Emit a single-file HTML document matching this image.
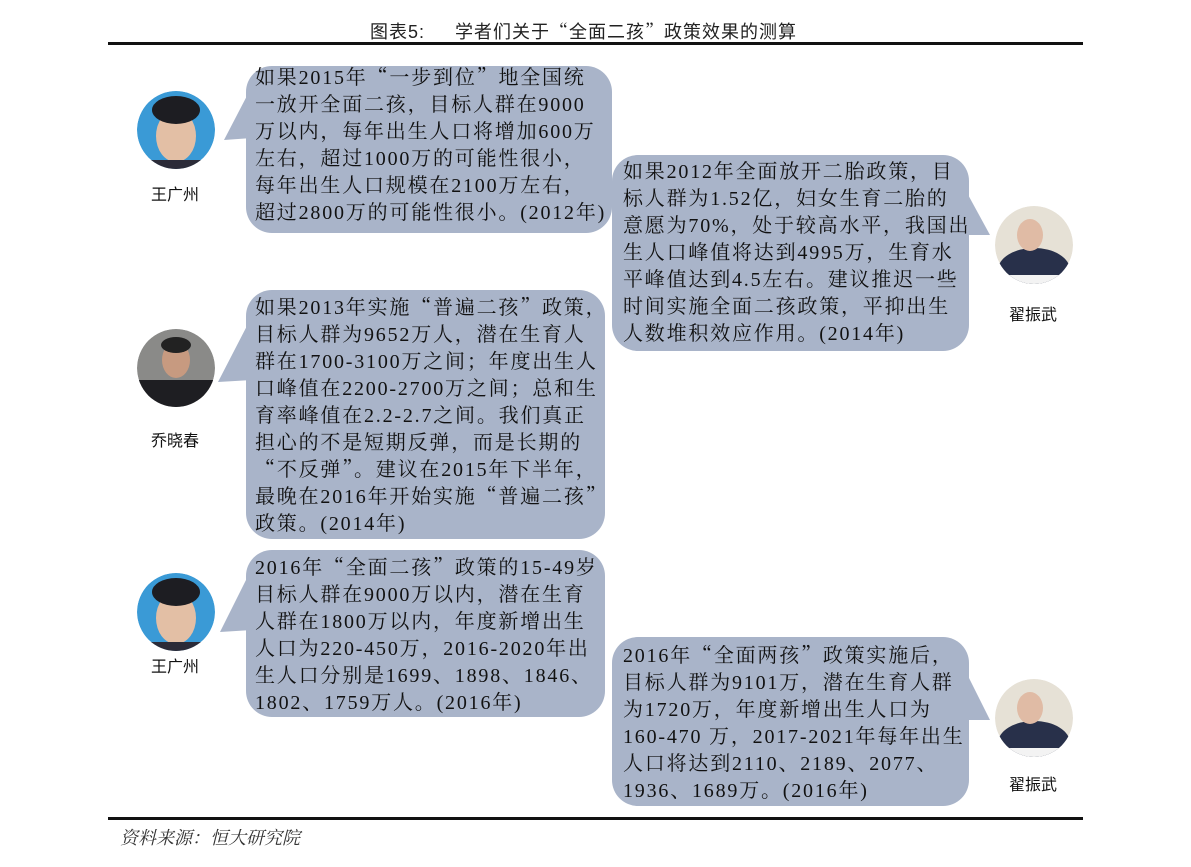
<!DOCTYPE html>
<html><head><meta charset="utf-8"><style>
body{margin:0;width:1191px;height:867px;background:#fff;position:relative;overflow:hidden;font-family:"Liberation Serif","Noto Serif CJK SC",serif;}
.t{position:absolute;font-size:20px;line-height:27px;letter-spacing:1.8px;color:#111;white-space:nowrap;}
.t div{height:27px;overflow:visible;}
.q{font-family:"Noto Serif CJK SC",serif;line-height:10px;}
.n{position:absolute;font-size:16px;color:#111;font-family:"Liberation Sans","Noto Sans CJK SC",sans-serif;}
</style></head><body>
<div style="position:absolute;left:370px;top:18px;font-size:18px;color:#222;font-family:'Liberation Sans','Noto Sans CJK SC',sans-serif;letter-spacing:1px;white-space:nowrap">图表5:&nbsp;&nbsp;&nbsp;&nbsp;&nbsp;学者们关于<span class="q">“</span>全面二孩<span class="q">”</span>政策效果的测算</div>
<div style="position:absolute;left:108px;top:42px;width:975px;height:3px;background:#111"></div>
<div style="position:absolute;left:108px;top:817px;width:975px;height:3px;background:#111"></div>
<div style="position:absolute;left:120px;top:824px;font-size:18px;font-style:italic;color:#333;font-family:'Liberation Serif','Noto Serif CJK SC',serif">资料来源：恒大研究院</div>
<svg width="1191" height="867" style="position:absolute;left:0;top:0">
<g fill="#a9b4c9">
<rect x="246" y="66" width="366" height="167" rx="26"/><polygon points="250,90 224,140 252,138"/>
<rect x="612" y="155" width="357" height="196" rx="26"/><polygon points="960,180 990,235 960,235"/>
<rect x="246" y="290" width="359" height="249" rx="26"/><polygon points="250,320 218,382 252,380"/>
<rect x="246" y="550" width="359" height="167" rx="26"/><polygon points="250,572 220,632 252,630"/>
<rect x="612" y="637" width="357" height="169" rx="26"/><polygon points="960,660 990,720 960,720"/>
</g>
<defs><clipPath id="c1"><circle cx="176" cy="130" r="39"/></clipPath><clipPath id="c2"><circle cx="176" cy="368" r="39"/></clipPath><clipPath id="c3"><circle cx="176" cy="612" r="39"/></clipPath><clipPath id="c4"><circle cx="1034" cy="245" r="39"/></clipPath><clipPath id="c5"><circle cx="1034" cy="718" r="39"/></clipPath></defs>
<g clip-path="url(#c1)"><circle cx="176" cy="130" r="39" fill="#3a9ad6"/><ellipse cx="176" cy="136" rx="20" ry="26" fill="#e3bfa5"/><ellipse cx="176" cy="110" rx="24" ry="14" fill="#1d1d22"/><rect x="140" y="160" width="72" height="20" fill="#2b2b38"/></g>
<g clip-path="url(#c3)"><circle cx="176" cy="612" r="39" fill="#3a9ad6"/><ellipse cx="176" cy="618" rx="20" ry="26" fill="#e3bfa5"/><ellipse cx="176" cy="592" rx="24" ry="14" fill="#1d1d22"/><rect x="140" y="642" width="72" height="20" fill="#2b2b38"/></g>
<g clip-path="url(#c2)"><circle cx="176" cy="368" r="39" fill="#8a8a88"/><rect x="137" y="380" width="80" height="30" fill="#1e1e22"/><ellipse cx="176" cy="360" rx="14" ry="18" fill="#c79a80"/><ellipse cx="176" cy="345" rx="15" ry="8" fill="#222"/></g>
<g clip-path="url(#c4)"><circle cx="1034" cy="245" r="39" fill="#e6e1d6"/><ellipse cx="1034" cy="270" rx="36" ry="22" fill="#28304a"/><ellipse cx="1030" cy="235" rx="13" ry="16" fill="#e0bba5"/><rect x="1000" y="275" width="70" height="10" fill="#f3f3f3"/></g>
<g clip-path="url(#c5)"><circle cx="1034" cy="718" r="39" fill="#e6e1d6"/><ellipse cx="1034" cy="743" rx="36" ry="22" fill="#28304a"/><ellipse cx="1030" cy="708" rx="13" ry="16" fill="#e0bba5"/><rect x="1000" y="748" width="70" height="10" fill="#f3f3f3"/></g>
</svg>
<div class="n" style="left:151px;top:181px">王广州</div>
<div class="n" style="left:151px;top:427px">乔晓春</div>
<div class="n" style="left:151px;top:653px">王广州</div>
<div class="n" style="left:1009px;top:301px">翟振武</div>
<div class="n" style="left:1009px;top:771px">翟振武</div>
<div class="t" style="left:255px;top:65px"><div>如果2015年<span class="q">“</span>一步到位<span class="q">”</span>地全国统</div><div>一放开全面二孩，目标人群在9000</div><div>万以内，每年出生人口将增加600万</div><div>左右，超过1000万的可能性很小，</div><div>每年出生人口规模在2100万左右，</div><div>超过2800万的可能性很小。(2012年)</div></div>
<div class="t" style="left:623px;top:159px"><div>如果2012年全面放开二胎政策，目</div><div>标人群为1.52亿，妇女生育二胎的</div><div>意愿为70%，处于较高水平，我国出</div><div>生人口峰值将达到4995万，生育水</div><div>平峰值达到4.5左右。建议推迟一些</div><div>时间实施全面二孩政策，平抑出生</div><div>人数堆积效应作用。(2014年)</div></div>
<div class="t" style="left:255px;top:295px"><div>如果2013年实施<span class="q">“</span>普遍二孩<span class="q">”</span>政策，</div><div>目标人群为9652万人，潜在生育人</div><div>群在1700-3100万之间；年度出生人</div><div>口峰值在2200-2700万之间；总和生</div><div>育率峰值在2.2-2.7之间。我们真正</div><div>担心的不是短期反弹，而是长期的</div><div><span class="q">“</span>不反弹<span class="q">”</span>。建议在2015年下半年，</div><div>最晚在2016年开始实施<span class="q">“</span>普遍二孩<span class="q">”</span></div><div>政策。(2014年)</div></div>
<div class="t" style="left:255px;top:555px"><div>2016年<span class="q">“</span>全面二孩<span class="q">”</span>政策的15-49岁</div><div>目标人群在9000万以内，潜在生育</div><div>人群在1800万以内，年度新增出生</div><div>人口为220-450万，2016-2020年出</div><div>生人口分别是1699、1898、1846、</div><div>1802、1759万人。(2016年)</div></div>
<div class="t" style="left:623px;top:643px"><div>2016年<span class="q">“</span>全面两孩<span class="q">”</span>政策实施后，</div><div>目标人群为9101万，潜在生育人群</div><div>为1720万，年度新增出生人口为</div><div>160-470 万，2017-2021年每年出生</div><div>人口将达到2110、2189、2077、</div><div>1936、1689万。(2016年)</div></div>
</body></html>
